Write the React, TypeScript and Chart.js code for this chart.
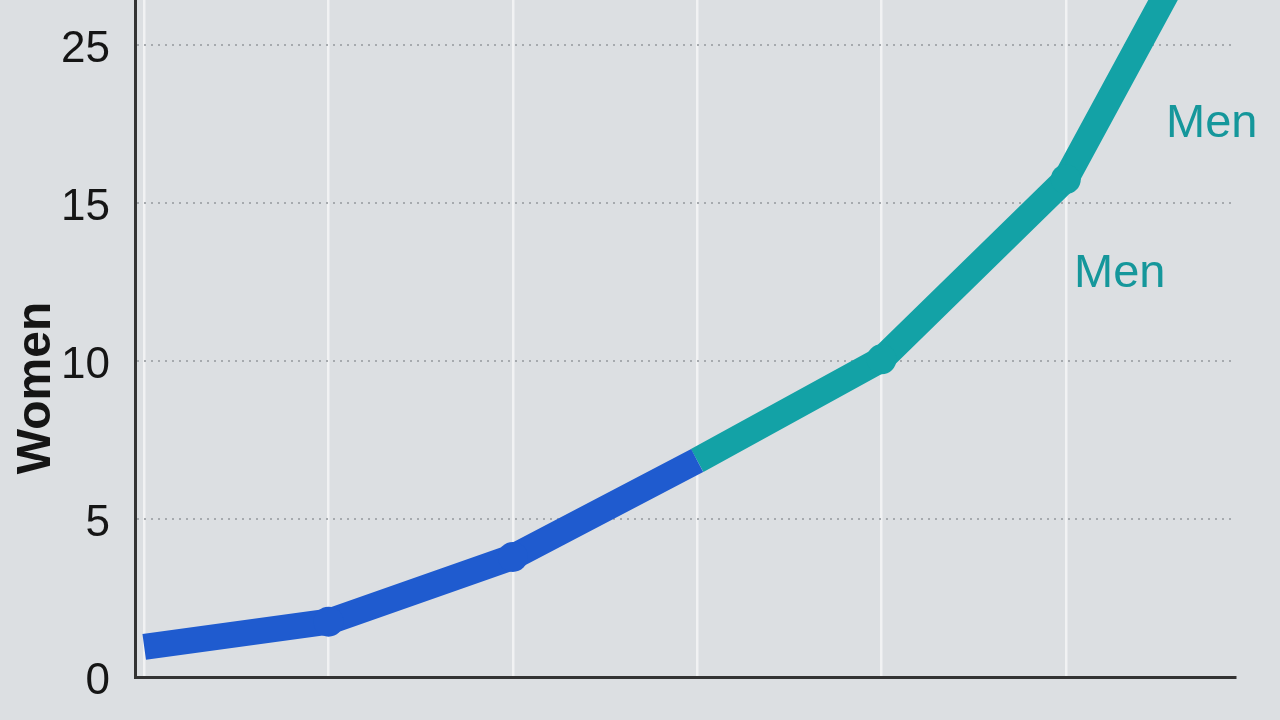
import React, { useEffect, useRef } from "react";
import { Chart, registerables } from "chart.js";

Chart.register(...registerables);

// ---- data ----
const xPositions = [0, 1, 2, 3, 4, 5, 6];
const womenValues: (number | null)[] = [0.95, 1.75, 3.8, 6.85, null, null, null];
const menValues: (number | null)[] = [null, null, null, 6.85, 10.05, 15.75, 26.5];
const yTickValues = [0, 5, 10, 15, 20];
const yTickLabels = ["0", "5", "10", "15", "25"];
const xGridValues = [0, 1, 2, 3, 4, 5];
const yAxisTitle = "Women";
const seriesLabel = "Men";

const BLUE = "#1f5bcf";
const TEAL = "#13a2a6";
const TEAL_TEXT = "#15979b";
const BG = "#dcdfe2";
const FONT = "'Liberation Sans', Arial, Helvetica, sans-serif";

const textPlugin = {
  id: "customText",
  afterDraw(chart: any) {
    const ctx = chart.ctx;
    ctx.save();
    ctx.translate(50, 388);
    ctx.rotate(-Math.PI / 2);
    ctx.font = `bold 48px ${FONT}`;
    ctx.fillStyle = "#151515";
    ctx.textAlign = "center";
    ctx.textBaseline = "alphabetic";
    ctx.fillText(yAxisTitle, 0, 0);
    ctx.restore();

    ctx.save();
    ctx.font = `47px ${FONT}`;
    ctx.fillStyle = TEAL_TEXT;
    ctx.textAlign = "left";
    ctx.textBaseline = "alphabetic";
    ctx.fillText(seriesLabel, 1074, 287);
    ctx.fillText(seriesLabel, 1166, 137);
    ctx.restore();
  },
};

export default function App() {
  const ref = useRef<HTMLCanvasElement | null>(null);

  useEffect(() => {
    if (!ref.current) return;
    const chart = new Chart(ref.current, {
      type: "line",
      data: {
        datasets: [
          {
            label: "Women",
            data: xPositions.map((x, i) => ({ x, y: womenValues[i] as any })),
            borderColor: BLUE,
            backgroundColor: BLUE,
            borderWidth: 26,
            borderCapStyle: "butt",
            borderJoinStyle: "round",
            pointRadius: [0, 15, 15, 0, 0, 0, 0],
            pointBorderWidth: 0,
            pointBackgroundColor: BLUE,
            tension: 0,
            spanGaps: false,
          },
          {
            label: "Men",
            data: xPositions.map((x, i) => ({ x, y: menValues[i] as any })),
            borderColor: TEAL,
            backgroundColor: TEAL,
            borderWidth: 26,
            borderCapStyle: "butt",
            borderJoinStyle: "round",
            pointRadius: [0, 0, 0, 0, 15, 15, 0],
            pointBorderWidth: 0,
            pointBackgroundColor: TEAL,
            tension: 0,
            spanGaps: false,
          },
        ],
      },
      options: {
        animation: false,
        responsive: false,
        devicePixelRatio: 1,
        layout: { padding: { top: 0, right: 45, left: 0, bottom: 0 } },
        plugins: {
          legend: { display: false },
          tooltip: { enabled: false },
        },
        scales: {
          x: {
            type: "linear",
            min: -0.05,
            max: 5.918,
            afterBuildTicks: (axis: any) => {
              axis.ticks = xGridValues.map((v) => ({ value: v }));
            },
            afterFit: (scale: any) => {
              scale.height = 43;
              scale.paddingLeft = 0;
              scale.paddingRight = 0;
            },
            ticks: { display: false },
            grid: {
              display: true,
              drawTicks: false,
              color: "rgba(255,255,255,0.6)",
              lineWidth: 2.5,
            },
            border: { display: true, color: "#333333", width: 3 },
          },
          y: {
            type: "linear",
            min: 0,
            max: 21.42,
            afterBuildTicks: (axis: any) => {
              axis.ticks = yTickValues.map((v) => ({ value: v }));
            },
            afterFit: (scale: any) => {
              scale.width = 135;
              scale.paddingTop = 0;
              scale.paddingBottom = 0;
            },
            ticks: {
              padding: 25,
              labelOffset: 5,
              color: "#151515",
              font: { family: FONT, size: 44 },
              callback: (value: any) => {
                const idx = yTickValues.indexOf(Number(value));
                return idx >= 0 ? yTickLabels[idx] : "";
              },
            },
            grid: {
              display: true,
              drawTicks: false,
              color: "#a6aaae",
              lineWidth: 2,
            },
            border: { display: true, color: "#333333", width: 3, dash: [2, 5] },
          },
        },
      },
      plugins: [textPlugin],
    });
    return () => chart.destroy();
  }, []);

  return (
    <div
      style={{
        position: "fixed",
        left: 0,
        top: 0,
        width: 1280,
        height: 720,
        background: BG,
        overflow: "hidden",
      }}
    >
      <canvas ref={ref} width={1280} height={720} style={{ display: "block", width: 1280, height: 720 }} />
    </div>
  );
}
